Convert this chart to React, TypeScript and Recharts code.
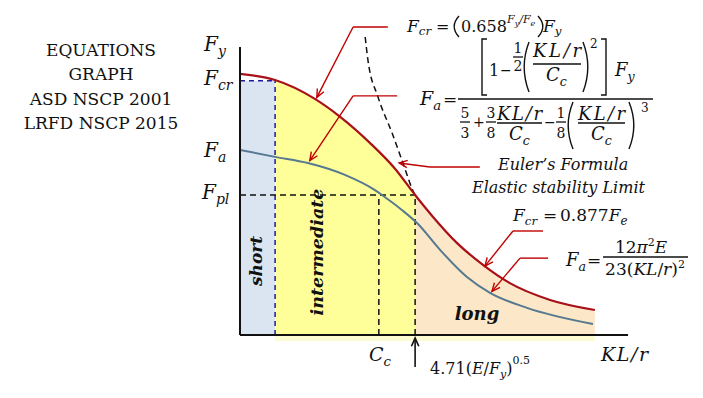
import { ComposedChart, Line, Area, XAxis, YAxis, ReferenceLine, ReferenceArea } from "recharts"

// Fcr curve (AISC/LRFD), x = KL/r (0-100), y = stress (0-100)
const fcrCurve = [
  { x: 0, y: 85.6 },
  { x: 9, y: 83.6 },
  { x: 19.2, y: 77.4 },
  { x: 25.6, y: 71.6 },
  { x: 33.3, y: 63.0 },
  { x: 39.7, y: 54.6 },
  { x: 44.9, y: 45.9 },
  { x: 49.5, y: 38.7 },
  { x: 55.6, y: 30.2 },
  { x: 62.3, y: 23.0 },
  { x: 69.2, y: 17.0 },
  { x: 79.5, y: 11.5 },
  { x: 91, y: 8.2 },
]

// Fa curve (ASD)
const faCurve = [
  { x: 0, y: 60.7 },
  { x: 9, y: 58.4 },
  { x: 17.4, y: 56.4 },
  { x: 26.9, y: 52.5 },
  { x: 34.6, y: 47.5 },
  { x: 36.4, y: 45.9 },
  { x: 41.5, y: 41.0 },
  { x: 45.4, y: 36.7 },
  { x: 51.3, y: 27.9 },
  { x: 58.2, y: 19.0 },
  { x: 64.1, y: 13.8 },
  { x: 73.6, y: 8.9 },
  { x: 90.5, y: 3.6 },
]

// Euler curve (dashed), only its upper part is drawn
const eulerCurve = [
  { x: 32.1, y: 97.7 },
  { x: 32.8, y: 90.2 },
  { x: 35.4, y: 78.0 },
  { x: 39.0, y: 66.2 },
  { x: 41.5, y: 57.4 },
  { x: 44.9, y: 45.9 },
  { x: 45.6, y: 44.6 },
]

const xShort = 9
const xCc = 35.6
const xLimit = 44.9
const yFpl = 45.9
const yShortTop = 83.4
const xEnd = 91

const intermediateFill = fcrCurve.filter((p) => p.x >= xShort && p.x <= xLimit)
const longFill = fcrCurve.filter((p) => p.x >= xLimit)

// callout arrows: horizontal stub then a pointer to the curve
const callouts = [
  { start: { x: 37.9, y: 101 }, bend: { x: 29, y: 101 }, tip: { x: 19.7, y: 77.9 } },
  { start: { x: 40.3, y: 78.4 }, bend: { x: 29, y: 78.4 }, tip: { x: 17.9, y: 57.2 } },
  { start: { x: 61.5, y: 55.1 }, bend: { x: 48.7, y: 55.1 }, tip: { x: 40.8, y: 56.4 } },
  { start: { x: 77.7, y: 34.1 }, bend: { x: 70.0, y: 34.1 }, tip: { x: 62.8, y: 22.6 } },
  { start: { x: 79.0, y: 25.2 }, bend: { x: 71.8, y: 25.2 }, tip: { x: 64.6, y: 14.3 } },
]

const RED = "#c00000"
const CURVE_RED = "#a8101a"
const CURVE_BLUE = "#56798f"
const MATH = "DejaVu Serif"

function arrowShape(color: string, width = 1.4) {
  return (p: any) => {
    const { x1, y1, x2, y2 } = p
    const a = Math.atan2(y2 - y1, x2 - x1)
    const h = 9
    const s = 0.42
    const ax = x2 - h * Math.cos(a - s)
    const ay = y2 - h * Math.sin(a - s)
    const bx = x2 - h * Math.cos(a + s)
    const by = y2 - h * Math.sin(a + s)
    return (
      <g>
        <line x1={x1} y1={y1} x2={x2} y2={y2} stroke={color} strokeWidth={width} />
        <polyline points={`${ax},${ay} ${x2},${y2} ${bx},${by}`} fill="none" stroke={color} strokeWidth={width} />
      </g>
    )
  }
}

function Sym({ x, y, b, s, size = 18, drop }: { x: number; y: number; b: string; s?: string; size?: number; drop?: number }) {
  return (
    <text x={x} y={y} fontFamily={MATH} fontStyle="italic" fontSize={size} fill="#111">
      {b}
      {s && (
        <tspan fontSize={size * 0.7} dy={drop ?? size * 0.25}>
          {s}
        </tspan>
      )}
    </text>
  )
}

function T({ x, y, children, size = 17, italic, anchor, len }: any) {
  return (
    <text
      x={x}
      y={y}
      fontFamily={MATH}
      fontStyle={italic ? "italic" : "normal"}
      fontSize={size}
      fill="#111"
      textAnchor={anchor}
      textLength={len}
      lengthAdjust={len ? "spacing" : undefined}
    >
      {children}
    </text>
  )
}

function Bar({ x1, x2, y }: { x1: number; x2: number; y: number }) {
  return <line x1={x1} x2={x2} y1={y} y2={y} stroke="#111" strokeWidth={1.3} />
}

function Paren({ x, y1, y2, left }: { x: number; y1: number; y2: number; left: boolean }) {
  const m = (y1 + y2) / 2
  const bow = left ? -6 : 6
  return <path d={`M${x},${y1} Q${x + bow * 1.6},${m} ${x},${y2}`} fill="none" stroke="#111" strokeWidth={1.4} />
}

function Frac({ cx, n, d, yTop, yBar, yBot, size = 14 }: any) {
  return (
    <g>
      <T x={cx} y={yTop} size={size} anchor="middle">{n}</T>
      <Bar x1={cx - 5} x2={cx + 5} y={yBar} />
      <T x={cx} y={yBot} size={size} anchor="middle">{d}</T>
    </g>
  )
}

function Overlay() {
  return (
    <svg width={703} height={398} style={{ position: "absolute", left: 0, top: 0, pointerEvents: "none" }}>
      {/* left title block */}
      <g fontFamily="DejaVu Serif" fontSize={17} fill="#111" textAnchor="middle">
        <text x={101} y={56}>EQUATIONS</text>
        <text x={101} y={80}>GRAPH</text>
        <text x={101} y={105}>ASD NSCP 2001</text>
        <text x={101} y={129}>LRFD NSCP 2015</text>
      </g>

      {/* axis labels */}
      <Sym x={204} y={51} b="F" s="y" size={20} />
      <Sym x={204} y={85} b="F" s="cr" size={20} />
      <Sym x={204} y={157} b="F" s="a" size={20} />
      <Sym x={202} y={199} b="F" s="pl" size={20} />
      <Sym x={369} y={361} b="C" s="c" size={19} />
      <T x={601} y={361} size={19} italic len={47}>KL/r</T>
      <text x={430} y={374} fontFamily={MATH} fontSize={16} fill="#111">
        4.71(<tspan fontStyle="italic">E</tspan>/<tspan fontStyle="italic">F</tspan>
        <tspan fontStyle="italic" fontSize={11} dy={4}>y</tspan>
        <tspan dy={-4}>)</tspan>
        <tspan fontSize={11} dy={-10}>0.5</tspan>
      </text>

      {/* region labels */}
      <text transform="translate(262,261) rotate(-90)" textAnchor="middle" fontFamily={MATH} fontStyle="italic" fontWeight="bold" fontSize={17} fill="#111">short</text>
      <text transform="translate(323,252) rotate(-90)" textAnchor="middle" fontFamily={MATH} fontStyle="italic" fontWeight="bold" fontSize={17.5} fill="#111">intermediate</text>
      <text x={477} y={320} textAnchor="middle" fontFamily={MATH} fontStyle="italic" fontWeight="bold" fontSize={18} fill="#111">long</text>

      {/* Fcr = (0.658^(Fy/Fe)) Fy */}
      <Sym x={407} y={32} b="F" s="cr" size={17} drop={3} />
      <T x={436} y={32} size={16}>=</T>
      <Paren x={459} y1={16} y2={37} left />
      <T x={461} y={32} size={16}>0.658</T>
      <text x={507} y={23} fontFamily={MATH} fontStyle="italic" fontSize={11} fill="#111">
        F<tspan fontSize={8} dy={3}>y</tspan>
        <tspan dy={-3}>/F</tspan>
        <tspan fontSize={8} dy={3}>e</tspan>
      </text>
      <Paren x={538} y1={16} y2={37} left={false} />
      <Sym x={543} y={32} b="F" s="y" size={17} drop={3} />

      {/* ASD Fa formula */}
      <Sym x={420} y={105} b="F" s="a" size={19} />
      <T x={443} y={105}>=</T>
      <Bar x1={458} x2={653} y={99} />
      <path d="M487,39 L482,39 L482,95 L487,95" fill="none" stroke="#111" strokeWidth={1.4} />
      <T x={489} y={76} size={16}>1</T>
      <T x={500} y={75} size={14}>−</T>
      <Frac cx={518} n="1" d="2" yTop={53} yBar={57} yBot={71} />
      <Paren x={529} y1={42} y2={92} left />
      <T x={533} y={57} size={18} italic len={48}>KL/r</T>
      <Bar x1={533} x2={581} y={64} />
      <Sym x={546} y={81} b="C" s="c" size={18} />
      <Paren x={583} y1={42} y2={92} left={false} />
      <T x={590} y={48} size={12}>2</T>
      <path d="M601,39 L606,39 L606,95 L601,95" fill="none" stroke="#111" strokeWidth={1.4} />
      <Sym x={615} y={76} b="F" s="y" size={18} />

      <Frac cx={465} n="5" d="3" yTop={118} yBar={122} yBot={138} />
      <T x={473} y={127} size={14}>+</T>
      <Frac cx={491} n="3" d="8" yTop={118} yBar={122} yBot={138} />
      <T x={497} y={120} size={18} italic len={45}>KL/r</T>
      <Bar x1={497} x2={542} y={123} />
      <Sym x={509} y={140} b="C" s="c" size={18} />
      <T x={544} y={127} size={14}>−</T>
      <Frac cx={561} n="1" d="8" yTop={118} yBar={122} yBot={138} />
      <Paren x={573} y1={102} y2={149} left />
      <T x={578} y={120} size={18} italic len={47}>KL/r</T>
      <Bar x1={578} x2={625} y={123} />
      <Sym x={591} y={140} b="C" s="c" size={18} />
      <Paren x={629} y1={102} y2={149} left={false} />
      <T x={641} y={112} size={12}>3</T>

      {/* Euler text */}
      <T x={498} y={170} size={16} italic>Euler’s Formula</T>
      <T x={472} y={193} size={16} italic>Elastic stability Limit</T>

      {/* Fcr = 0.877 Fe */}
      <Sym x={513} y={221} b="F" s="cr" size={17} />
      <T x={543} y={221}>=</T>
      <text x={560} y={221} fontFamily={MATH} fontSize={17} fill="#111">
        0.877<tspan fontStyle="italic">F</tspan>
        <tspan fontStyle="italic" fontSize={12} dy={4}>e</tspan>
      </text>

      {/* long Fa formula */}
      <Sym x={566} y={266} b="F" s="a" size={18} />
      <T x={587} y={266}>=</T>
      <Bar x1={603} x2={688} y={257} />
      <text x={641} y={253} textAnchor="middle" fontFamily={MATH} fontSize={17} fill="#111">
        12<tspan fontStyle="italic">π</tspan>
        <tspan fontSize={11} dy={-7}>2</tspan>
        <tspan fontStyle="italic" dy={7}>E</tspan>
      </text>
      <text x={645} y={275} textAnchor="middle" fontFamily={MATH} fontSize={17} fill="#111">
        23(<tspan fontStyle="italic">KL</tspan>/<tspan fontStyle="italic">r</tspan>)
        <tspan fontSize={11} dy={-7}>2</tspan>
      </text>
    </svg>
  )
}

export default function App() {
  return (
    <div style={{ position: "absolute", left: 0, top: 0, width: 703, height: 398, background: "#fff" }}>
      <ComposedChart width={703} height={398} margin={{ top: 30, right: 73, bottom: 63, left: 240 }}>
        <XAxis type="number" dataKey="x" domain={[0, 100]} allowDataOverflow hide />
        <YAxis type="number" dataKey="y" domain={[0, 100]} allowDataOverflow hide />

        <ReferenceArea x1={xShort} x2={xEnd} y1={-2} y2={0} fill="#fdfbd2" fillOpacity={1} stroke="none" ifOverflow="visible" />
        <ReferenceArea x1={0} x2={xShort} y1={0} y2={yShortTop} fill="#dbe5f2" fillOpacity={1} stroke="none" />
        <Area data={intermediateFill} dataKey="y" type="monotone" stroke="none" fill="#ffff9a" fillOpacity={1} isAnimationActive={false} />
        <Area data={longFill} dataKey="y" type="monotone" stroke="none" fill="#fce8c8" fillOpacity={1} isAnimationActive={false} />

        <ReferenceLine segment={[{ x: 0, y: yShortTop }, { x: xShort, y: yShortTop }]} stroke="#1c1ca0" strokeWidth={1.5} strokeDasharray="5 4" />
        <ReferenceLine segment={[{ x: xShort, y: 0 }, { x: xShort, y: yShortTop }]} stroke="#1c1ca0" strokeWidth={1.5} strokeDasharray="5 4" />
        <ReferenceLine segment={[{ x: 0, y: yFpl }, { x: xLimit, y: yFpl }]} stroke="#111" strokeWidth={1.5} strokeDasharray="6 4" />
        <ReferenceLine segment={[{ x: xCc, y: 0 }, { x: xCc, y: yFpl }]} stroke="#111" strokeWidth={1.5} strokeDasharray="6 4" />
        <ReferenceLine segment={[{ x: xLimit, y: 0 }, { x: xLimit, y: yFpl }]} stroke="#111" strokeWidth={1.5} strokeDasharray="6 4" />

        <Line data={eulerCurve} dataKey="y" type="monotone" stroke="#111" strokeWidth={1.5} strokeDasharray="6 4" dot={false} activeDot={false} isAnimationActive={false} />
        <Line data={faCurve} dataKey="y" type="monotone" stroke={CURVE_BLUE} strokeWidth={2} dot={false} activeDot={false} isAnimationActive={false} />
        <Line data={fcrCurve} dataKey="y" type="monotone" stroke={CURVE_RED} strokeWidth={2.2} dot={false} activeDot={false} isAnimationActive={false} />

        {/* axes */}
        <ReferenceLine segment={[{ x: 0, y: 0 }, { x: 0, y: 94.4 }]} stroke="#111" strokeWidth={2} ifOverflow="visible" />
        <ReferenceLine segment={[{ x: 0, y: 0 }, { x: 99.5, y: 0 }]} stroke="#111" strokeWidth={2} ifOverflow="visible" />
        <ReferenceLine segment={[{ x: xLimit, y: -10.5 }, { x: xLimit, y: -1 }]} stroke="#111" ifOverflow="visible" shape={arrowShape("#111", 1.6)} />

        {callouts.map((c, i) => (
          <ReferenceLine key={`s${i}`} segment={[c.start, c.bend]} stroke={RED} strokeWidth={1.4} ifOverflow="visible" />
        ))}
        {callouts.map((c, i) => (
          <ReferenceLine key={`p${i}`} segment={[c.bend, c.tip]} stroke={RED} ifOverflow="visible" shape={arrowShape(RED)} />
        ))}
      </ComposedChart>
      <Overlay />
    </div>
  )
}
